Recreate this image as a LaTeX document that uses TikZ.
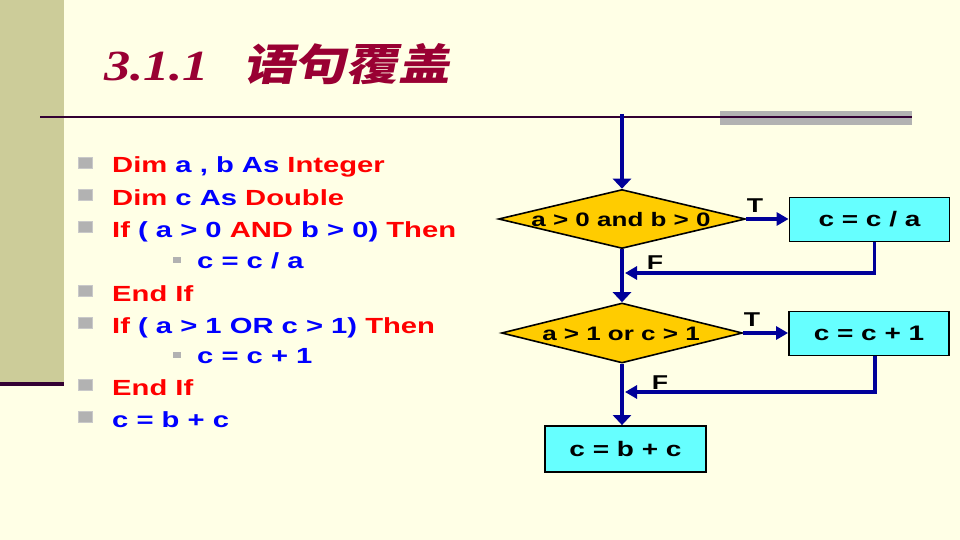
\documentclass[tikz,border=0pt]{standalone}
\usepackage{fontspec}
\usetikzlibrary{arrows.meta,shapes.geometric}
% slide fonts, widened to the slide's 16:9 stretch
\newfontfamily\slidesans{Liberation Sans}[FakeStretch=1.333]
\newfontfamily\slideserif{Liberation Serif}[FakeStretch=1.22]
\newfontfamily\slidecjk{Noto Sans CJK SC}[FakeStretch=1.2,FakeSlant=0.2]
\definecolor{paper}{RGB}{255,255,230}
\definecolor{band}{RGB}{204,204,153}
\definecolor{rulecol}{RGB}{51,0,51}
\definecolor{titlecol}{RGB}{153,0,51}
\definecolor{bargray}{RGB}{178,178,178}
\definecolor{kwred}{RGB}{255,0,0}
\definecolor{idblue}{RGB}{0,0,255}
\definecolor{flowblue}{RGB}{0,0,153}
\definecolor{decfill}{RGB}{255,204,0}
\definecolor{procfill}{RGB}{102,255,255}
\newcommand\kwd[1]{\textcolor{kwred}{#1}}
\newcommand\idt[1]{\textcolor{idblue}{#1}}
\begin{document}
\begin{tikzpicture}[x=1pt,y=-1pt,
  code/.style={anchor=base west,inner sep=0pt,font=\slidesans\bfseries\fontsize{21.9}{26}\selectfont},
  mainbullet/.style={rectangle,fill=bargray,draw=bargray!70,line width=0.6pt,minimum width=14pt,minimum height=10.5pt,inner sep=0pt},
  subbullet/.style={rectangle,fill=bargray,minimum width=8pt,minimum height=6pt,inner sep=0pt},
  decision/.style={diamond,draw=black,line width=1.6pt,fill=decfill,inner sep=0pt},
  process/.style={rectangle,draw=black,line width=1.8pt,fill=procfill,minimum width=160pt,minimum height=44pt,inner sep=0pt,font=\slidesans\bfseries\fontsize{21}{24}\selectfont},
  dectext/.style={inner sep=0pt,font=\slidesans\bfseries\fontsize{19.5}{22}\selectfont},
  branch/.style={inner sep=0pt,font=\slidesans\bfseries\fontsize{20}{22}\selectfont},
  flowv/.style={draw=flowblue,line width=3.6pt,-{Triangle[length=10pt,width=18pt]}},
  flowh/.style={draw=flowblue,line width=3.2pt,-{Triangle[length=12pt,width=13pt]}},
]
\useasboundingbox (0,0) rectangle (960,540);
% page
\fill[paper] (0,0) rectangle (960,540);
\fill[band] (0,0) rectangle (64,382);
\fill[rulecol] (0,382) rectangle (64,386);
\fill[bargray] (720,111.5) rectangle (912,125.5);
\draw[rulecol,line width=1.3pt] (40,117) -- (912,117);

% heading
\node[anchor=base west,inner sep=0pt,text=titlecol,font=\slideserif\bfseries\itshape\fontsize{43}{48}\selectfont] (num) at (104,81) {3.1.1};
\node[anchor=base west,inner sep=0pt,text=titlecol,font=\slidecjk\bfseries\fontsize{43}{48}\selectfont] (head) at (243,81) {语句覆盖};

% code listing
\node[mainbullet] (m1) at (85.5,163) {};
\node[code] (l1) at (112,173) {\kwd{Dim} \idt{a , b As} \kwd{Integer}};
\node[mainbullet] (m2) at (85.5,195) {};
\node[code] (l2) at (112,205) {\kwd{Dim} \idt{c As} \kwd{Double}};
\node[mainbullet] (m3) at (85.5,227) {};
\node[code] (l3) at (112,237) {\kwd{If} \idt{( a > 0} \kwd{AND} \idt{b > 0)} \kwd{Then}};
\node[subbullet] (s1) at (177,259.5) {};
\node[code] (l4) at (197,268) {\idt{c = c / a}};
\node[mainbullet] (m4) at (85.5,291) {};
\node[code] (l5) at (112,301) {\kwd{End If}};
\node[mainbullet] (m5) at (85.5,323) {};
\node[code] (l6) at (112,333) {\kwd{If} \idt{( a > 1 OR c > 1)} \kwd{Then}};
\node[subbullet] (s2) at (177,354.5) {};
\node[code] (l7) at (197,363) {\idt{c = c + 1}};
\node[mainbullet] (m6) at (85.5,385) {};
\node[code] (l8) at (112,395) {\kwd{End If}};
\node[mainbullet] (m7) at (85.5,417) {};
\node[code] (l9) at (112,427) {\idt{c = b + c}};

% flowchart
\coordinate (start) at (622,114);
\node[decision,minimum width=247pt,minimum height=59pt] (d1) at (622,219) {};
\node[dectext] (d1t) at (621,220) {a > 0 and b > 0};
\node[process] (b1) at (869.5,219.5) {c = c / a};
\node[decision,minimum width=241pt,minimum height=60pt] (d2) at (622,333) {};
\node[dectext] (d2t) at (621,334) {a > 1 or c > 1};
\node[process] (b2) at (869,333.5) {c = c + 1};
\node[process,minimum width=161pt,minimum height=46pt] (b3) at (625.5,449) {c = b + c};
\coordinate (j1) at (625,273);
\coordinate (j2) at (625,392);

\draw[flowv] (start) -- (d1.north);
\draw[flowh] (d1.east) -- (d1.east -| b1.west);
\draw[flowh] ([xshift=5pt]b1.south) |- (j1);
\draw[flowv] (d1.south) -- (d2.north);
\draw[flowh] (d2.east) -- (d2.east -| b2.west);
\draw[flowh] ([xshift=6pt]b2.south) |- (j2);
\draw[flowv] (d2.south) -- (d2.south |- b3.north);

\node[branch] (t1) at (755,206) {T};
\node[branch] (f1) at (655,263) {F};
\node[branch] (t2) at (752,320) {T};
\node[branch] (f2) at (660,383) {F};
\end{tikzpicture}
\end{document}
